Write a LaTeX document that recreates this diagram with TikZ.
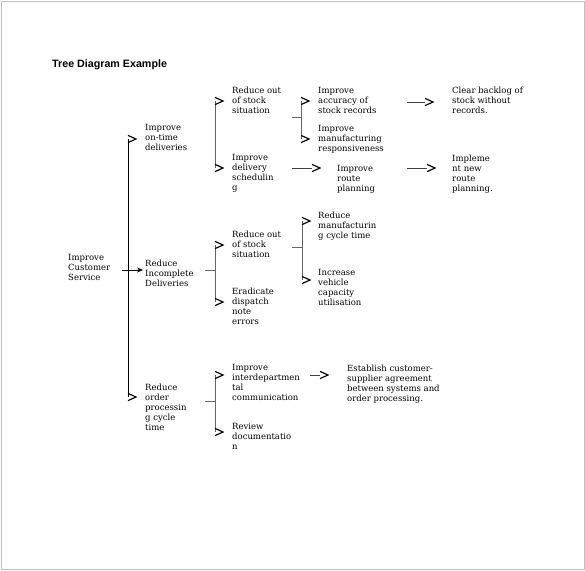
\documentclass[tikz,border=0pt]{standalone}
\usepackage{fontspec}
\setmainfont{DejaVu Serif}
\newfontfamily\titlefont{Liberation Sans}
\usetikzlibrary{arrows.meta}
\tikzset{
  txt/.style={anchor=north west, inner sep=0pt, align=left, text=black,
    font=\fontsize{8.5}{10}\selectfont},
  ttl/.style={anchor=base west, inner sep=0pt, font=\titlefont\bfseries\fontsize{10.7}{12}\selectfont},
  trunk/.style={draw=black, line width=0.7pt},
  branch/.style={draw=black!60, line width=0.8pt},
  flow/.style={draw=black!75, line width=0.8pt},
  chevron/.pic={\draw[black, line width=1.15pt, line join=miter, line cap=butt] (0,-3.6) -- (8,0) -- (0,3.6);},
}
\begin{document}
\begin{tikzpicture}[x=1pt,y=-1pt]
\path[use as bounding box] (0,0) rectangle (585,570);
\draw[draw=black!25, line width=1pt] (1,1) rectangle (584,569);

\node[ttl] (title) at (52,67.3) {Tree Diagram Example};

% level 0
\node[txt] (root) at (68,254) {Improve\\Customer\\Service};
% level 1
\node[txt] (ontime) at (145,124.5) {Improve\\on-time\\deliveries};
\node[txt] (incomplete) at (145,259.5) {Reduce\\Incomplete\\Deliveries};
\node[txt] (order) at (145,384) {Reduce\\order\\processin\\g cycle\\time};
% level 2
\node[txt] (rso1) at (232,86.5) {Reduce out\\of stock\\situation};
\node[txt] (delivery) at (232,154) {Improve\\delivery\\schedulin\\g};
\node[txt] (rso2) at (232,230.5) {Reduce out\\of stock\\situation};
\node[txt] (eradicate) at (232,288) {Eradicate\\dispatch\\note\\errors};
\node[txt] (interdept) at (232,364.5) {Improve\\interdepartmen\\tal\\communication};
\node[txt] (review) at (232,423) {Review\\documentatio\\n};
% level 3
\node[txt] (accuracy) at (318,87) {Improve\\accuracy of\\stock records};
\node[txt] (manresp) at (318,125.5) {Improve\\manufacturing\\responsiveness};
\node[txt] (route) at (337,165) {Improve\\route\\planning};
\node[txt] (redman) at (318,212) {Reduce\\manufacturin\\g cycle time};
\node[txt] (vehicle) at (318,269) {Increase\\vehicle\\capacity\\utilisation};
% level 4
\node[txt] (clear) at (452,87) {Clear backlog of\\stock without\\records.};
\node[txt] (implement) at (452,154.5) {Impleme\\nt new\\route\\planning.};
\node[txt] (establish) at (347,364.5) {Establish customer-\\supplier agreement\\between systems and\\order processing.};

% junction coordinates
\coordinate (t1) at (128,139);   \coordinate (t2) at (128,397);
\coordinate (a1) at (215,101);   \coordinate (a2) at (215,168);
\coordinate (b0) at (205,270);   \coordinate (bj) at (215,270);
\coordinate (b1) at (215,245);   \coordinate (b2) at (215,302);
\coordinate (c0) at (205,401);   \coordinate (cj) at (215,401);
\coordinate (c1) at (215,375);   \coordinate (c2) at (215,432);
\coordinate (d0) at (292,117);   \coordinate (dj) at (301,117);
\coordinate (d1) at (301,101);   \coordinate (d2) at (301,139);
\coordinate (e0) at (292,247);   \coordinate (ej) at (302,247);
\coordinate (e1) at (302,221);   \coordinate (e2) at (302,280);
\coordinate (r0) at (122,270);   \coordinate (r1) at (143,270);
\coordinate (f0) at (407,102);   \coordinate (f1) at (425,102);
\coordinate (g0) at (292,168);   \coordinate (g1) at (312,168);
\coordinate (h0) at (407,168);   \coordinate (h1) at (427,168);
\coordinate (k0) at (310,375);   \coordinate (k1) at (320,375);

% trunk
\draw[trunk] (t1) -- (t2);
\pic at (t1) {chevron};
\pic at (t2) {chevron};
\draw[trunk, -{Stealth[length=6pt,width=5pt]}] (r0) -- (r1);

% second-level brackets
\draw[branch] (a1) -- (a2);
\pic at (a1) {chevron}; \pic at (a2) {chevron};
\draw[branch] (b0) -- (bj); \draw[branch] (b1) -- (b2);
\pic at (b1) {chevron}; \pic at (b2) {chevron};
\draw[branch] (c0) -- (cj); \draw[branch] (c1) -- (c2);
\pic at (c1) {chevron}; \pic at (c2) {chevron};
% third-level brackets
\draw[branch] (d0) -- (dj); \draw[branch] (d1) -- (d2);
\pic at (d1) {chevron}; \pic at (d2) {chevron};
\draw[branch] (e0) -- (ej); \draw[branch] (e1) -- (e2);
\pic at (e1) {chevron}; \pic at (e2) {chevron};

% flow arrows
\draw[flow] (f0) -- (f1); \pic at (f1) {chevron};
\draw[flow] (g0) -- (g1); \pic at (g1) {chevron};
\draw[flow] (h0) -- (h1); \pic at (h1) {chevron};
\draw[flow] (k0) -- (k1); \pic at (k1) {chevron};
\end{tikzpicture}
\end{document}
